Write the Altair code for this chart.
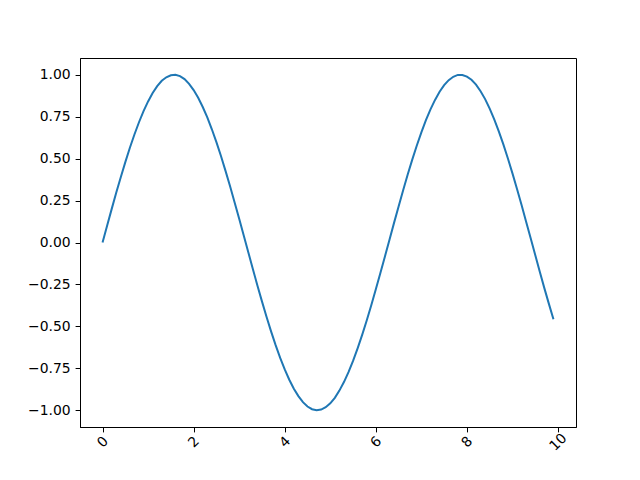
import altair as alt
import pandas as pd

x_vals = [round(0.1 * i, 1) for i in range(100)]
y_vals = [
    0.000, 0.100, 0.199, 0.296, 0.389, 0.479, 0.565, 0.644, 0.717, 0.783,
    0.841, 0.891, 0.932, 0.964, 0.985, 0.997, 1.000, 0.992, 0.974, 0.946,
    0.909, 0.863, 0.808, 0.746, 0.675, 0.598, 0.516, 0.427, 0.335, 0.239,
    0.141, 0.042, -0.058, -0.158, -0.256, -0.351, -0.443, -0.530, -0.612, -0.688,
    -0.757, -0.818, -0.872, -0.916, -0.952, -0.978, -0.994, -1.000, -0.996, -0.982,
    -0.959, -0.926, -0.883, -0.832, -0.773, -0.706, -0.631, -0.551, -0.465, -0.374,
    -0.279, -0.182, -0.083, 0.017, 0.117, 0.215, 0.312, 0.405, 0.494, 0.578,
    0.657, 0.729, 0.794, 0.850, 0.899, 0.938, 0.968, 0.988, 0.999, 0.999,
    0.989, 0.970, 0.941, 0.902, 0.855, 0.798, 0.734, 0.663, 0.585, 0.501,
    0.412, 0.319, 0.223, 0.124, 0.025, -0.075, -0.174, -0.272, -0.366, -0.458,
]
x_ticks = [0, 2, 4, 6, 8, 10]
y_ticks = [-1.0, -0.75, -0.5, -0.25, 0.0, 0.25, 0.5, 0.75, 1.0]

df = pd.DataFrame({"x": x_vals, "y": y_vals})

chart = alt.Chart(df).mark_line(color="#1f77b4", strokeWidth=2).encode(
    x=alt.X("x:Q", scale=alt.Scale(domain=[-0.495, 10.395], nice=False, zero=False),
            axis=alt.Axis(values=x_ticks, format="d", title=None, labelAngle=-45,
                          labelAlign="center", labelBaseline="middle", labelPadding=10)),
    y=alt.Y("y:Q", scale=alt.Scale(domain=[-1.1, 1.1], nice=False, zero=False),
            axis=alt.Axis(values=y_ticks, format=".2f", title=None, labelPadding=4.9)),
).properties(
    width=496, height=369,
    background="white",
    autosize=alt.AutoSizeParams(type="none"),
    padding={"left": 72, "top": 50, "right": 56, "bottom": 45},
).configure_view(
    stroke="black", strokeWidth=1
).configure_axis(
    grid=False, domainColor="black", domainWidth=1, tickColor="black", tickSize=4.9,
    tickWidth=1, labelColor="black", labelFont="DejaVu Sans", labelFontSize=13.9,
    labelFlush=False, labelOverlap=False,
)

chart.save("out.html", embed_options={"renderer": "svg", "actions": False})
